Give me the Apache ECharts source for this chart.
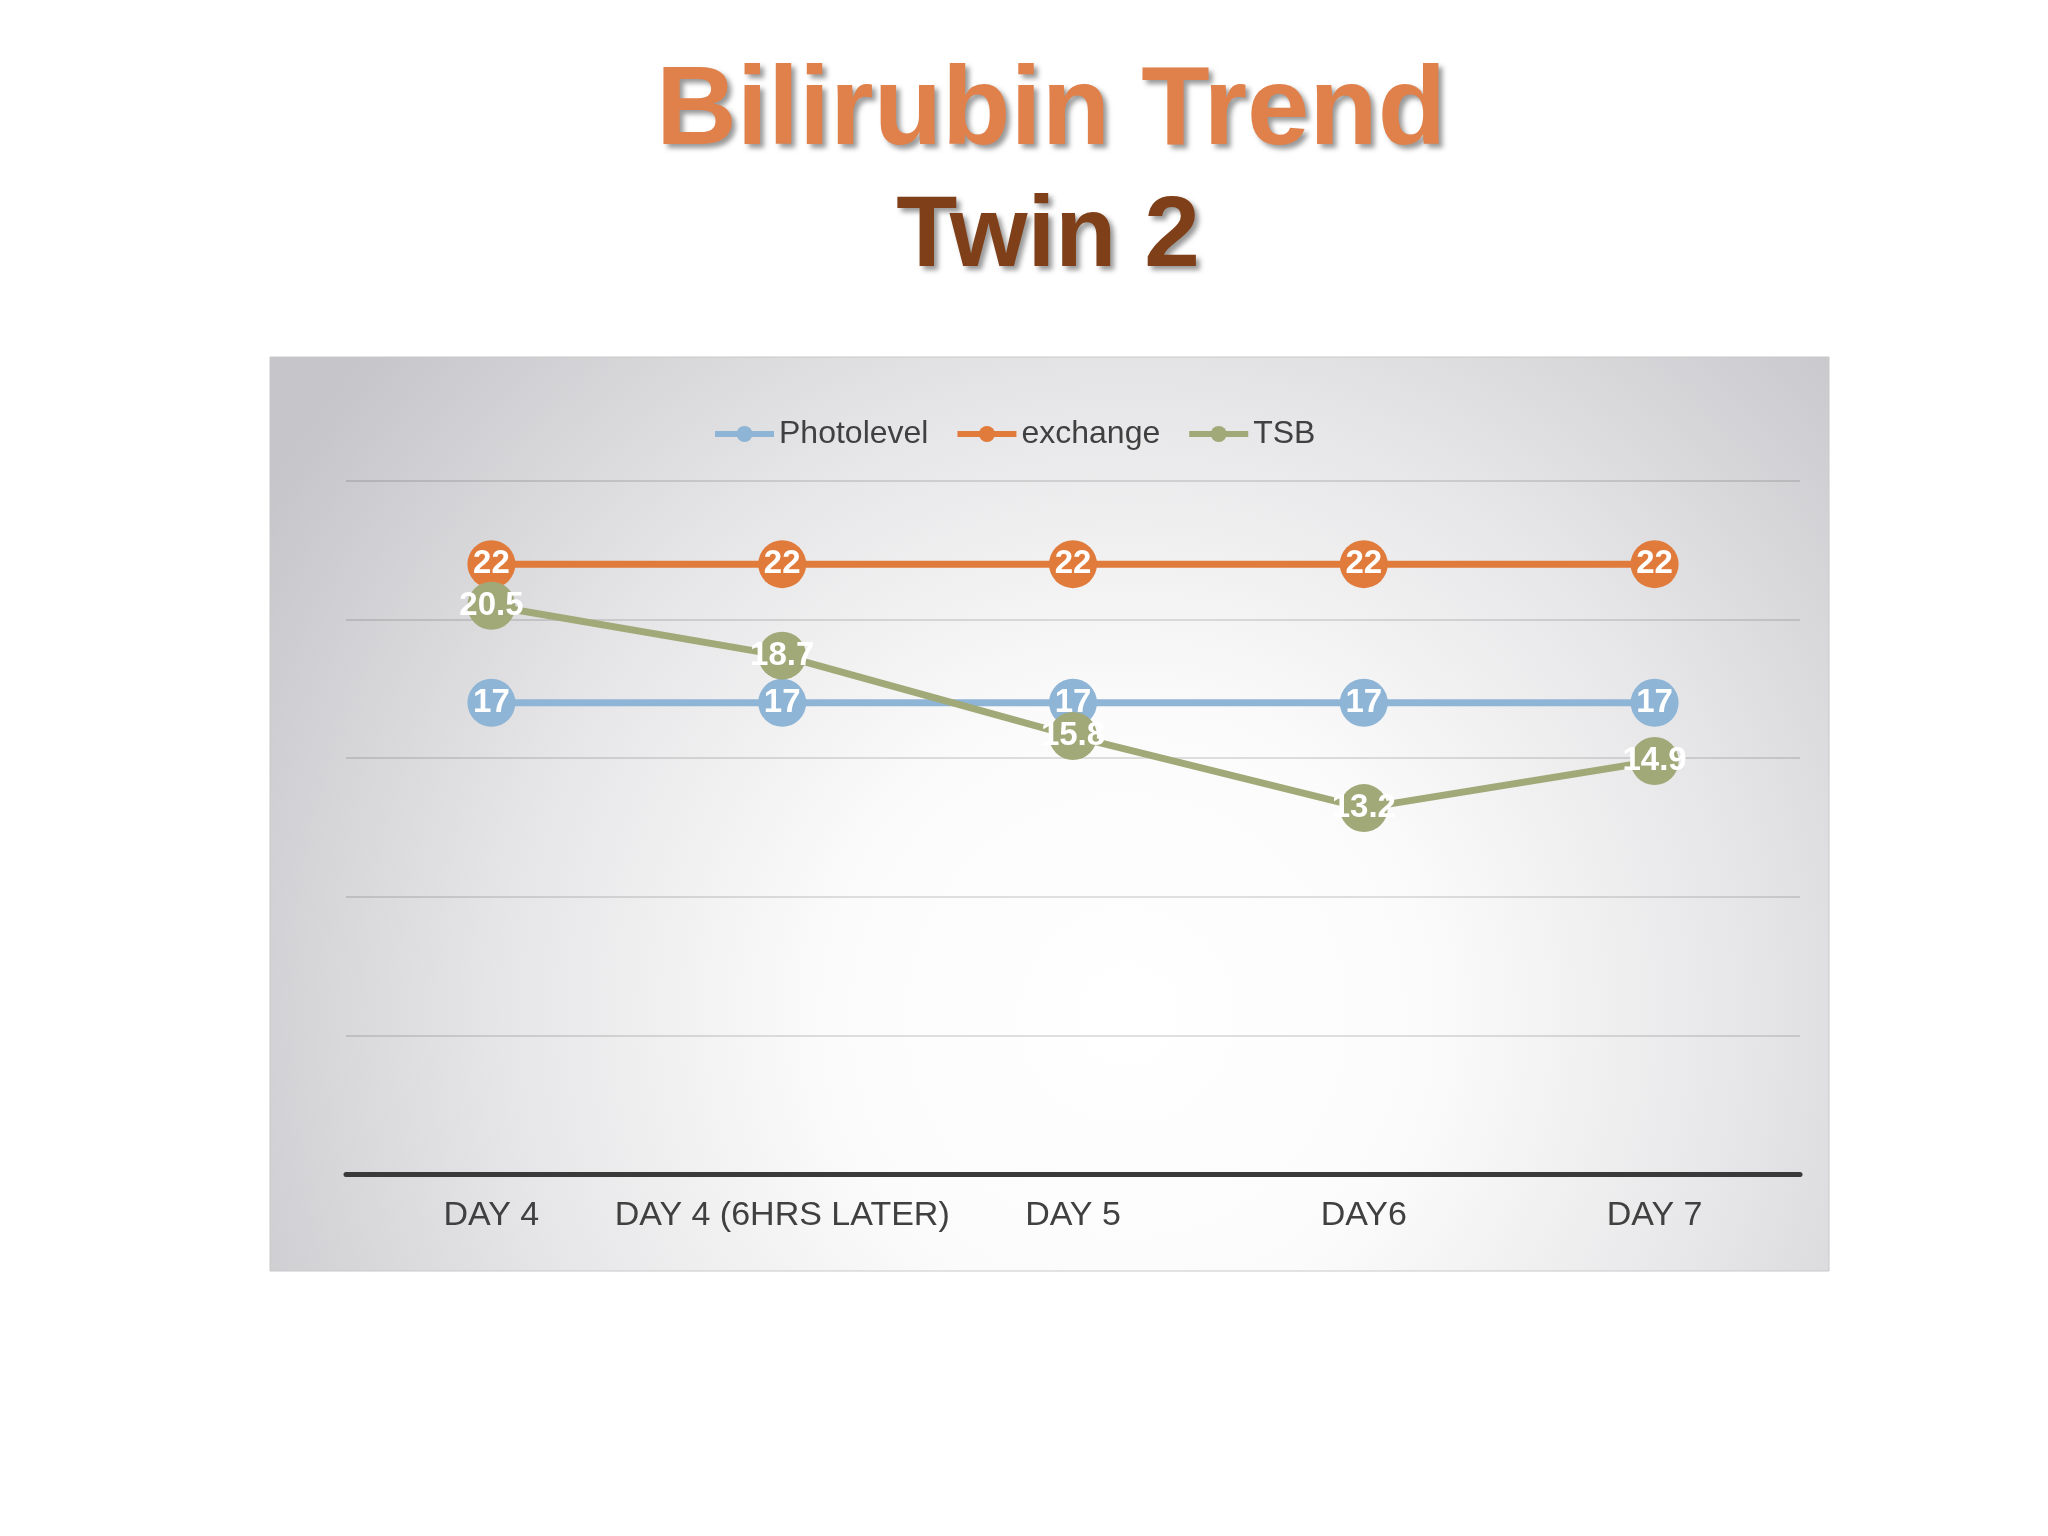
<!DOCTYPE html>
<html>
<head>
<meta charset="utf-8">
<script src="https://cdn.jsdelivr.net/npm/echarts@6/dist/echarts.min.js"></script>
<style>
  html, body { margin:0; padding:0; background:#fff; }
  #chart { width:2048px; height:1536px; }
</style>
</head>
<body>
<div id="chart"></div>
<script>
// ===== data =====
const days = ['DAY 4', 'DAY 4 (6HRS LATER)', 'DAY 5', 'DAY6', 'DAY 7'];
const photolevel = [17, 17, 17, 17, 17];
const exchange = [22, 22, 22, 22, 22];
const tsb = [20.5, 18.7, 15.8, 13.2, 14.9];

const FONT = '"Liberation Sans", Arial, sans-serif';

const chart = echarts.init(document.getElementById('chart'));

// 系列通用样式：粗线 + 大圆点，白色粗体数值在圆内
function lineSeries(name, data, color) {
    return {
        name: name, type: 'line', data: data,
        symbol: 'circle', symbolSize: 48,
        lineStyle: { width: 7, color: color },
        itemStyle: { color: color },
        label: { show: true, position: 'inside', color: '#fff', fontSize: 33, fontWeight: 'bold', fontFamily: FONT },
        emphasis: { disabled: true },
        animation: false
    };
}

const titleShadow = { textShadowColor: 'rgba(0,0,0,0.4)', textShadowBlur: 5, textShadowOffsetX: 4, textShadowOffsetY: 4 };

chart.setOption({
    backgroundColor: '#fff',
    textStyle: { fontFamily: FONT },
    graphic: [
        {   // 图表面板：径向渐变灰底
            type: 'rect', z: -100, silent: true,
            shape: { x: 270, y: 357, width: 1559, height: 914 },
            style: {
                fill: new echarts.graphic.RadialGradient(0.55, 0.72, 1.1, [
                    { offset: 0, color: '#ffffff' },
                    { offset: 0.3, color: '#fbfbfb' },
                    { offset: 0.62, color: '#e6e6e8' },
                    { offset: 1, color: '#c6c5c9' }
                ]),
                stroke: '#c8c8c8', lineWidth: 1
            }
        },
        {
            type: 'text', x: 1051, y: 113, silent: true,
            style: Object.assign({
                text: 'Bilirubin Trend', fill: '#E0804A',
                font: 'bold 112px ' + FONT, align: 'center', verticalAlign: 'middle'
            }, titleShadow)
        },
        {
            type: 'text', x: 1048, y: 238, silent: true,
            style: Object.assign({
                text: 'Twin 2', fill: '#7F3F18',
                font: 'bold 100px ' + FONT, align: 'center', verticalAlign: 'middle'
            }, titleShadow)
        }
    ],
    legend: {
        left: 707, top: 413,
        itemWidth: 59, itemHeight: 20, itemGap: 26,
        lineStyle: { width: 6 },
        textStyle: { fontSize: 32, color: '#404040', fontFamily: FONT },
        data: ['Photolevel', 'exchange', 'TSB']
    },
    grid: { left: 346, right: 248, top: 481, bottom: 362, containLabel: false },
    xAxis: {
        type: 'category', data: days, boundaryGap: true,
        axisLine: { lineStyle: { color: '#3a3a3a', width: 5 } },
        axisTick: { show: false },
        axisLabel: { fontSize: 34, color: '#404040', margin: 25, fontFamily: FONT, interval: 0 }
    },
    yAxis: {
        type: 'value', min: 0, max: 25, interval: 5,
        axisLine: { show: false }, axisTick: { show: false },
        axisLabel: { show: false },
        splitLine: { lineStyle: { color: 'rgba(0,0,0,0.16)', width: 1.5 } }
    },
    series: [
        lineSeries('Photolevel', photolevel, '#8EB4D6'),
        lineSeries('exchange', exchange, '#E07B3C'),
        lineSeries('TSB', tsb, '#A1A978')
    ]
});
</script>
</body>
</html>
